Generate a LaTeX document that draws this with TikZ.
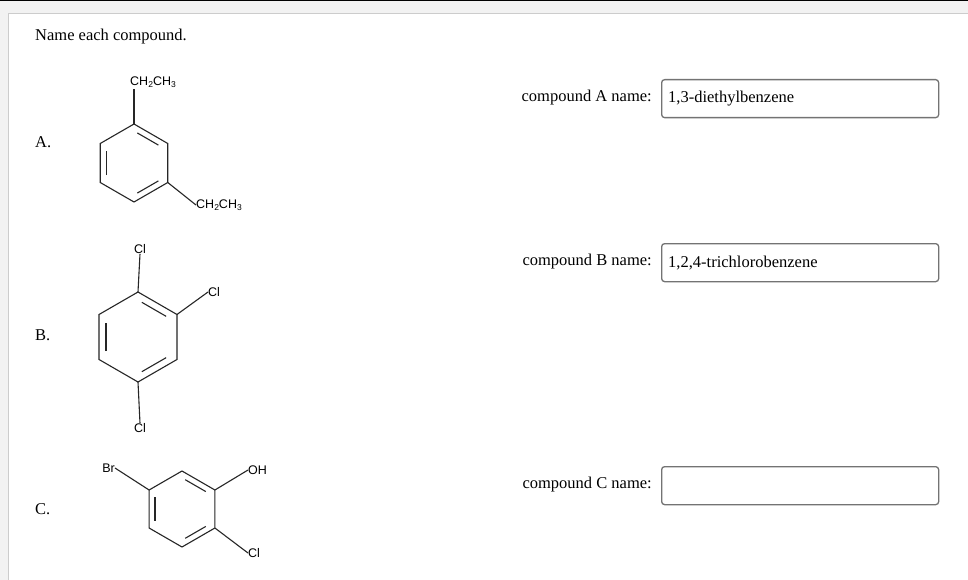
\documentclass[tikz,border=0pt]{standalone}
\usepackage{fontspec}
\setmainfont{Liberation Serif}
\newfontfamily\chem{Liberation Sans}
\usetikzlibrary{calc}
\newcommand{\sbs}[1]{\raisebox{-0.35ex}{\fontsize{8.5}{9}\selectfont #1}}
\newcommand{\ethyl}{CH\sbs{2}CH\sbs{3}}
\newcommand{\mkring}[4]{% prefix, cx, cy, R
  \coordinate (#1c) at (#2,#3);
  \foreach \k in {0,...,5}{\coordinate (#1\k) at ($(#2,#3)+(-90+60*\k:#4)$);}
  \draw[bond] (#10)--(#11)--(#12)--(#13)--(#14)--(#15)--cycle;
  \draw[bond] ($(#1c)!0.82!($(#10)!0.12!(#11)$)$) -- ($(#1c)!0.82!($(#11)!0.12!(#10)$)$);
  \draw[bond] ($(#1c)!0.82!($(#12)!0.12!(#13)$)$) -- ($(#1c)!0.82!($(#13)!0.12!(#12)$)$);
  \draw[bond] ($(#1c)!0.82!($(#14)!0.12!(#15)$)$) -- ($(#1c)!0.82!($(#15)!0.12!(#14)$)$);
}
\begin{document}
\begin{tikzpicture}[x=1pt,y=-1pt,
  bond/.style={line width=1.1pt,black!85},
  lbl/.style={font=\fontsize{16.5}{18}\selectfont,inner sep=0pt},
  atom/.style={font=\chem\fontsize{12.5}{13}\selectfont,inner sep=0pt},
  ansbox/.style={draw=black!55,line width=1.3pt,rounded corners=3pt,minimum width=277pt,minimum height=38pt,inner sep=0pt}]
\useasboundingbox (0,0) rectangle (968,580);
\fill[black!5] (0,0) rectangle (968,580);
\draw[black,line width=1.5pt] (0,0.75) -- (968,0.75);
\fill[white] (8,13) rectangle (968,580);
\draw[black!20,line width=0.8pt] (8,580) -- (8,13) -- (968,13);
\node[lbl,anchor=west] (title) at (35,37) {Name each compound.};
\node[lbl,anchor=west] (la) at (35,142) {A.};
\node[lbl,anchor=west] (lb) at (35,335) {B.};
\node[lbl,anchor=west] (lc) at (35,509) {C.};
% answer boxes
\node[ansbox,anchor=north west] (ba) at (661,79) {};
\node[ansbox,anchor=north west] (bb) at (661,243) {};
\node[ansbox,anchor=north west] (bc) at (661,466) {};
\node[lbl,anchor=east] (ta) at (652,98) {compound A name:};
\node[lbl,anchor=east] (tb) at (652,262) {compound B name:};
\node[lbl,anchor=east] (tc) at (652,485) {compound C name:};
\node[lbl,anchor=west,xshift=7pt] (va) at (ba.west) {1,3-diethylbenzene};
\node[lbl,anchor=west,xshift=7pt] (vb) at (bb.west) {1,2,4-trichlorobenzene};
% ring A
\mkring{a}{134}{163}{39}
\node[atom] (a0s) at (153,82) {\ethyl};
\draw[bond] (a0) -- (134,89);
\node[atom,anchor=west] (a2s) at (196,205) {\ethyl};
\draw[bond] (a2) -- (a2s.west);
% ring B
\mkring{b}{138}{337}{45}
\node[atom] (b0s) at (140,249) {Cl};
\draw[bond] (b0) -- (b0s.south);
\node[atom,anchor=west] (b1s) at (208,292) {Cl};
\draw[bond] (b1) -- (b1s.west);
\node[atom] (b3s) at (140,428) {Cl};
\draw[bond] (b3) -- (b3s.north);
% ring C
\mkring{c}{182}{509}{38}
\node[atom,anchor=east] (c5s) at (115,468) {Br};
\draw[bond] (c5) -- (c5s.east);
\node[atom,anchor=west] (c1s) at (248,470) {OH};
\draw[bond] (c1) -- (c1s.west);
\node[atom,anchor=west] (c2s) at (248,553) {Cl};
\draw[bond] (c2) -- (c2s.west);
\end{tikzpicture}
\end{document}
